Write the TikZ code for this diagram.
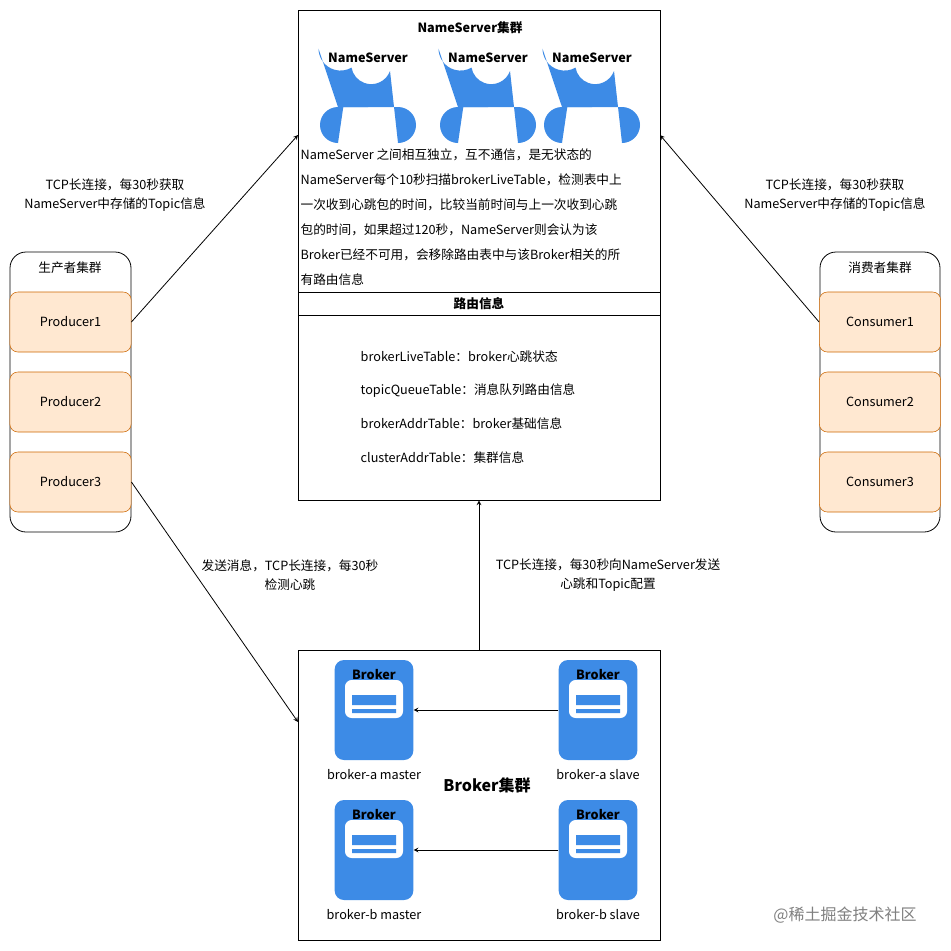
\documentclass[tikz,border=0pt]{standalone}
\usepackage{fontspec}
\setmainfont{Noto Sans CJK SC}
\begin{document}
\begin{tikzpicture}[x=0.75pt,y=-0.75pt,
 box/.style={draw,line width=0.6pt},
 prod/.style={draw=orange!80!black,fill=orange!18,rounded corners=6pt,minimum width=91pt,minimum height=45pt,font=\fontsize{9.5}{11}\selectfont},
 grp/.style={draw,rounded corners=12pt,line width=0.6pt},
 lbl/.style={font=\fontsize{9.5}{14}\selectfont,align=center},
 txt/.style={font=\fontsize{9.5}{11}\selectfont,anchor=west},
 arr/.style={-stealth,line width=0.6pt},
 bk/.style={fill=brokerblue,rounded corners=7pt},
 ns/.style={font=\bfseries\fontsize{9.5}{11}\selectfont}]
\definecolor{brokerblue}{HTML}{3D8BE6}
\useasboundingbox (0,0) rectangle (951,951);
\fill[white] (0,0) rectangle (951,951);
% NameServer box
\node[box,minimum width=271.5pt,minimum height=367.5pt,inner sep=0] (nsbox) at (479,255) {};
\draw[line width=0.6pt] (298,292) -- (660,292) (298,315) -- (660,315);
\node[ns] (nst) at (470,28) {NameServer集群};
\node[ns] (rt) at (479,304) {路由信息};
\foreach \x/\n in {368/c1,488/c2,592/c3}{
 \begin{scope}[shift={(\x,80)}]
 \fill[brokerblue] (-30,27) -- (30,27) arc (-90:90:18) -- (22,-9) arc (20:170:20) arc (60:180:22) -- cycle;
 \fill[brokerblue] (-30,27) arc (270:90:18) -- (-20,-5) -- (0,27)--cycle;
 \end{scope}
 \node[ns] (\n) at (\x,58) {NameServer};
}
\foreach \t [count=\i] in {NameServer 之间相互独立，互不通信，是无状态的,NameServer每个10秒扫描brokerLiveTable，检测表中上,一次收到心跳包的时间，比较当前时间与上一次收到心跳,包的时间，如果超过120秒，NameServer则会认为该,Broker已经不可用，会移除路由表中与该Broker相关的所,有路由信息}
 \node[txt,inner sep=1pt] (l\i) at (299,130+25*\i) {\t};
\node[txt] (r1) at (356,357) {brokerLiveTable：broker心跳状态};
\node[txt] (r2) at (356,391) {topicQueueTable：消息队列路由信息};
\node[txt] (r3) at (356,424) {brokerAddrTable：broker基础信息};
\node[txt] (r4) at (356,458) {clusterAddrTable：集群信息};
% groups
\draw[grp] (10,252) rectangle (131,532);
\node[lbl] (pg) at (70,268) {生产者集群};
\draw[grp] (820,252) rectangle (940,532);
\node[lbl] (cg) at (880,268) {消费者集群};
\foreach \i/\y in {1/322,2/402,3/482}{
 \node[prod] (p\i) at (70.5,\y) {Producer\i};
 \node[prod] (c\i) at (880,\y) {Consumer\i};
}
% Broker box
\node[box,minimum width=271.5pt,minimum height=217.5pt,inner sep=0] (bbox) at (479,795) {};
\node[font=\bfseries\fontsize{12}{14}\selectfont] (bt) at (487,785) {Broker集群};
\foreach \n/\x/\y/\l in {am/374/710/broker-a master,as/598/710/broker-a slave,bm/374/850/broker-b master,bs/598/850/broker-b slave}{
 \node[bk,minimum width=59pt,minimum height=75pt,inner sep=0] (\n) at (\x,\y) {};
 \fill[white,rounded corners=5pt] (\x-29,\y-30) rectangle (\x+29,\y+8);
 \fill[brokerblue] (\x-22,\y-15) rectangle (\x+22,\y-5) (\x-22,\y-1) rectangle (\x+22,\y+9-6);
 \node[ns] at (\x,\y-35) {Broker};
 \node[lbl] at (\x,\y+65) {\l};
}
% arrows
\draw[arr] (p1.east) -- (298,135);
\draw[arr] (c1.west) -- (660,135);
\draw[arr] (p3.east) -- (298,722);
\draw[arr] (bbox.north) -- (nsbox.south);
\draw[arr] (as.west) -- (am.east);
\draw[arr] (bs.west) -- (bm.east);
\node[lbl] (t1) at (115,195) {TCP长连接，每30秒获取\\NameServer中存储的Topic信息};
\node[lbl] (t2) at (835,195) {TCP长连接，每30秒获取\\NameServer中存储的Topic信息};
\node[lbl] (t3) at (290,575) {发送消息，TCP长连接，每30秒\\检测心跳};
\node[lbl] (t4) at (608,575) {TCP长连接，每30秒向NameServer发送\\心跳和Topic配置};
\node[font=\fontsize{12}{14}\selectfont,text=gray] (wm) at (845,915) {@稀土掘金技术社区};
\end{tikzpicture}
\end{document}
